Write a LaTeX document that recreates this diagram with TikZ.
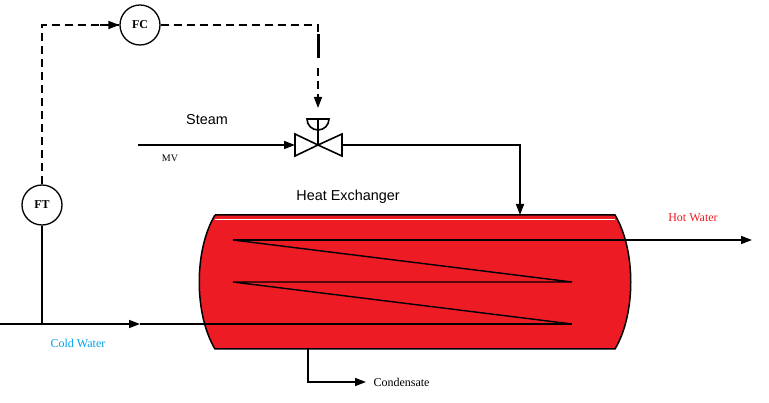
\documentclass[tikz,border=0pt]{standalone}
\usepackage{fontspec}
\setmainfont{Liberation Serif}
\newfontfamily\arialf{Liberation Sans}
\usetikzlibrary{arrows.meta}
\definecolor{hxred}{RGB}{237,28,36}
\definecolor{cwblue}{RGB}{0,162,232}
\begin{document}
\begin{tikzpicture}[x=1pt,y=-1pt,
  pipe/.style={line width=1.6pt,-{Triangle[length=11pt,width=8pt]}},
  sig/.style={line width=1.6pt,dash pattern=on 8pt off 5pt},
  inst/.style={circle,draw,line width=1.3pt,minimum size=40pt,inner sep=0pt,font=\bfseries\large}]
\useasboundingbox (0,0) rectangle (769,403);
% vessel
\draw[line width=1.5pt,fill=hxred] (215,215) -- (615,215) .. controls (636,250) and (636,314) .. (615,349) -- (215,349) .. controls (194,314) and (194,250) .. (215,215);
\draw[white,line width=0.6pt] (215,219) -- (615,219);
% coil
\draw[line width=1.4pt] (572,324) -- (233,282) -- (572,282) -- (233,240);
\node[inst] (FT) at (42,205) {FT};
\node[inst] (FC) at (140,25) {FC};
\coordinate (cw0) at (0,324);
\coordinate (cwa) at (140,324);
\coordinate (cwe) at (572,324);
\draw[pipe] (cw0) -- (cwa);
\draw[line width=1.6pt] (cwa) -- (cwe);
\coordinate (hw0) at (233,240);
\coordinate (hw1) at (752,240);
\draw[pipe] (hw0) -- (hw1);
\draw[line width=1.6pt] (FT.south) -- (42,324);
% valve
\coordinate (V) at (318,145);
\draw[line width=1.6pt,fill=white] (V) -- (295,134) -- (295,156) -- cycle;
\draw[line width=1.6pt,fill=white] (V) -- (342,134) -- (342,156) -- cycle;
\draw[line width=1.6pt] (V) -- (318,119);
\draw[line width=1.6pt] (307,119) -- (329,119) arc (0:180:11) -- cycle;
\coordinate (st0) at (138,145);
\draw[pipe] (st0) -- (295,145);
\draw[pipe] (342,145) -- (520,145) -- (520,215);
\draw[pipe] (308,349) -- (308,382) -- (366,382);
% signals
\draw[sig] (FT.north) -- (42,25) -- (FC.west);
\draw[-{Triangle[length=11pt,width=8pt]},line width=1.6pt] (100,25) -- (FC.west);
\draw[sig] (FC.east) -- (318,25) -- (318,58);
\draw[line width=3pt] (318,34) -- (318,58);
\draw[sig,-{Triangle[length=11pt,width=8pt]}] (318,68) -- (318,108);
% labels
\node[font=\arialf\Large] (steam) at (207,120) {Steam};
\node[font=\normalsize] (mv) at (170,158) {MV};
\node[font=\arialf\Large] (hx) at (348,197) {Heat Exchanger};
\node[font=\large,text=hxred] (hw) at (693,218) {Hot Water};
\node[font=\large,text=cwblue] (cw) at (78,343) {Cold Water};
\node[font=\large,anchor=west] (cd) at (370,382) {Condensate};
\end{tikzpicture}
\end{document}
